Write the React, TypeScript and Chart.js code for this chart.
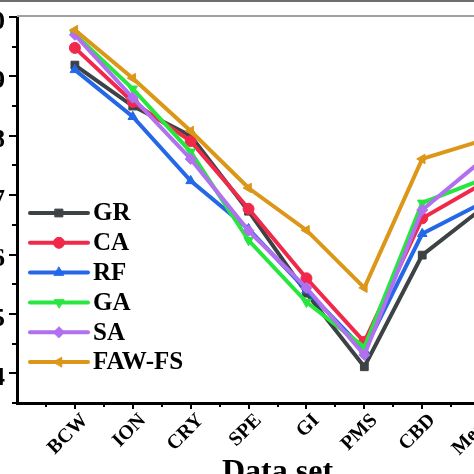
import { useEffect, useRef } from 'react';
import { Chart, registerables } from 'chart.js';
import { drawPoint } from 'chart.js/helpers';

Chart.register(...registerables);

// Data sets on the x axis (positions 1..8)
const categories = ['BCW', 'ION', 'CRY', 'SPE', 'GI', 'PMS', 'CBD', 'Mean'];

// Accuracy per data set for each feature-selection method
const grValues = [0.919, 0.85, 0.8, 0.673, 0.535, 0.411, 0.599, 0.675];
const caValues = [0.948, 0.857, 0.791, 0.677, 0.56, 0.453, 0.661, 0.717];
const rfValues = [0.911, 0.832, 0.724, 0.643, 0.54, 0.439, 0.635, 0.685];
const gaValues = [0.971, 0.879, 0.773, 0.624, 0.52, 0.444, 0.687, 0.725];
const saValues = [0.97, 0.864, 0.761, 0.64, 0.544, 0.431, 0.675, 0.756];
const fawValues = [0.978, 0.897, 0.808, 0.712, 0.641, 0.544, 0.761, 0.791];

const seriesNames = ['GR', 'CA', 'RF', 'GA', 'SA', 'FAW-FS'];
const seriesValues = [grValues, caValues, rfValues, gaValues, saValues, fawValues];

// Styling per series
const seriesColors = ['#3d4245', '#f0284a', '#2468e8', '#28e640', '#b070f0', '#dc9618'];
const pointStyles = ['rect', 'circle', 'triangle', 'triangle', 'rectRot', 'triangle'];
const pointRotations = [0, 0, 0, 180, 0, -90];

// Axis ticks
const yMajorTicks = [0.4, 0.5, 0.6, 0.7, 0.8, 0.9, 1.0];
const yMinorTicks = [0.35, 0.45, 0.55, 0.65, 0.75, 0.85, 0.95];
const xMajorTicks = [1, 2, 3, 4, 5, 6, 7, 8, 9];
const xMinorTicks = [0.5, 1.5, 2.5, 3.5, 4.5, 5.5, 6.5, 7.5, 8.5];

const FONT = "'Liberation Serif', 'Times New Roman', serif";

const decorPlugin = {
  id: 'decor',
  afterDatasetsDraw(chart: any) {
    const { ctx, chartArea } = chart;
    ctx.save();
    chart.data.datasets.forEach((ds: any, i: number) => {
      const y = chartArea.top + 196 + i * 29.8;
      const x0 = chartArea.left + 13;
      const x1 = chartArea.left + 71;
      ctx.strokeStyle = ds.borderColor;
      ctx.lineWidth = 4;
      ctx.lineCap = 'round';
      ctx.beginPath();
      ctx.moveTo(x0, y);
      ctx.lineTo(x1, y);
      ctx.stroke();
      ctx.fillStyle = ds.backgroundColor;
      ctx.strokeStyle = ds.borderColor;
      ctx.lineWidth = 1;
      drawPoint(
        ctx,
        { pointStyle: ds.pointStyle, rotation: ds.pointRotation, radius: 5.5, borderWidth: 1 } as any,
        (x0 + x1) / 2,
        y
      );
      ctx.fillStyle = '#000';
      ctx.font = `bold 25px ${FONT}`;
      ctx.textBaseline = 'middle';
      ctx.textAlign = 'left';
      ctx.fillText(seriesNames[i], chartArea.left + 76, y + 1);
    });
    ctx.restore();
  },
  afterDraw(chart: any) {
    const { ctx, chartArea, scales } = chart;
    ctx.save();
    // top frame line
    ctx.strokeStyle = '#a0a0a0';
    ctx.lineWidth = 2;
    ctx.beginPath();
    ctx.moveTo(chartArea.left, chartArea.top - 1);
    ctx.lineTo(chartArea.right, chartArea.top - 1);
    ctx.stroke();
    // tick marks
    ctx.strokeStyle = '#000';
    ctx.lineWidth = 2;
    ctx.lineCap = 'butt';
    const yTick = (v: number, len: number) => {
      const py = Math.round(scales.y.getPixelForValue(v));
      ctx.beginPath();
      ctx.moveTo(chartArea.left - len, py);
      ctx.lineTo(chartArea.left, py);
      ctx.stroke();
    };
    const xTick = (v: number, len: number) => {
      const px = Math.round(scales.x.getPixelForValue(v));
      ctx.beginPath();
      ctx.moveTo(px, chartArea.bottom);
      ctx.lineTo(px, chartArea.bottom + len);
      ctx.stroke();
    };
    yMajorTicks.forEach((v) => yTick(v, 8));
    yMinorTicks.forEach((v) => yTick(v, 5));
    xMajorTicks.forEach((v) => xTick(v, 6));
    xMinorTicks.forEach((v) => xTick(v, 4));
    ctx.restore();
  },
};

export default function App() {
  const canvasRef = useRef<HTMLCanvasElement | null>(null);

  useEffect(() => {
    if (!canvasRef.current) return;
    const datasets = seriesNames.map((name, i) => ({
      label: name,
      data: seriesValues[i].map((v, j) => ({ x: j + 1, y: v })),
      borderColor: seriesColors[i],
      backgroundColor: seriesColors[i],
      borderWidth: 4,
      pointStyle: pointStyles[i],
      pointRotation: pointRotations[i],
      pointRadius: 5.5,
      pointBorderWidth: 1,
      tension: 0,
      order: seriesNames.length - i,
    }));

    const chart = new Chart(canvasRef.current, {
      type: 'line',
      data: { datasets: datasets as any },
      options: {
        animation: false,
        responsive: false,
        devicePixelRatio: 1,
        layout: { padding: { top: 17, right: 22, left: 0, bottom: 0 } },
        plugins: { legend: { display: false }, tooltip: { enabled: false } },
        scales: {
          x: {
            type: 'linear',
            min: 0,
            max: 9,
            grid: { display: false, drawTicks: false },
            border: { display: true, color: '#000', width: 3 },
            afterBuildTicks: (scale: any) => {
              scale.ticks = categories.map((_, i) => ({ value: i + 1 }));
            },
            afterFit: (scale: any) => {
              scale.height = 117;
              scale.paddingLeft = 0;
              scale.paddingRight = 0;
            },
            ticks: {
              autoSkip: false,
              minRotation: 45,
              maxRotation: 45,
              padding: 6,
              labelOffset: 10,
              color: '#000',
              font: { family: FONT, size: 20, weight: 'bold' },
              callback: (v: any) => categories[Number(v) - 1] ?? '',
            },
            title: {
              display: true,
              text: 'Data set',
              color: '#000',
              font: { family: FONT, size: 32, weight: 'bold' },
              padding: { top: 0, bottom: 28 },
            },
          },
          y: {
            type: 'linear',
            min: 0.35,
            max: 1.0,
            grid: { display: false, drawTicks: false },
            border: { display: true, color: '#000', width: 3 },
            afterBuildTicks: (scale: any) => {
              scale.ticks = yMajorTicks.map((v) => ({ value: v }));
            },
            afterFit: (scale: any) => {
              scale.width = 77;
              scale.paddingTop = 0;
              scale.paddingBottom = 0;
            },
            ticks: {
              padding: 12,
              labelOffset: 5,
              color: '#000',
              font: { family: FONT, size: 26, weight: 'bold' },
              callback: (v: any) => Number(v).toFixed(1),
            },
          },
        },
      },
      plugins: [decorPlugin],
    });
    return () => chart.destroy();
  }, []);

  return (
    <div
      style={{
        position: 'fixed',
        left: 0,
        top: 0,
        width: 474,
        height: 474,
        overflow: 'hidden',
        background: '#fff',
      }}
    >
      <div style={{ position: 'absolute', left: -60, top: 0, width: 620, height: 520 }}>
        <canvas ref={canvasRef} width={620} height={520} />
      </div>
      <div
        style={{
          position: 'absolute',
          left: 0,
          top: 0,
          width: 474,
          height: 2,
          background: '#6e6e6e',
        }}
      />
    </div>
  );
}
